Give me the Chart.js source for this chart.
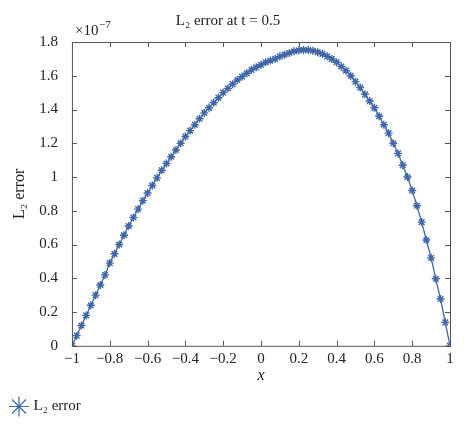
<!DOCTYPE html>
<html><head><meta charset="utf-8">
<script src="https://cdn.jsdelivr.net/npm/chart.js@4"></script>
<style>html,body{margin:0;background:#fff}#w{width:474px;height:438px}</style>
</head><body><div id="w"><canvas id="c"></canvas></div>
<script>
const xValues = [-1,-0.975,-0.95,-0.925,-0.9,-0.875,-0.85,-0.825,-0.8,-0.775,-0.75,-0.725,-0.7,-0.675,-0.65,-0.625,-0.6,-0.575,-0.55,-0.525,-0.5,-0.475,-0.45,-0.425,-0.4,-0.375,-0.35,-0.325,-0.3,-0.275,-0.25,-0.225,-0.2,-0.175,-0.15,-0.125,-0.1,-0.075,-0.05,-0.025,0,0.025,0.05,0.075,0.1,0.125,0.15,0.175,0.2,0.225,0.25,0.275,0.3,0.325,0.35,0.375,0.4,0.425,0.45,0.475,0.5,0.525,0.55,0.575,0.6,0.625,0.65,0.675,0.7,0.725,0.75,0.775,0.8,0.825,0.85,0.875,0.9,0.925,0.95,0.975,1];
const errValues = [0,0.06,0.12,0.18,0.24,0.30,0.36,0.42,0.49,0.545,0.60,0.655,0.71,0.76,0.81,0.86,0.905,0.95,0.995,1.04,1.08,1.12,1.16,1.20,1.24,1.275,1.31,1.345,1.38,1.41,1.44,1.47,1.50,1.525,1.55,1.575,1.595,1.615,1.635,1.65,1.665,1.68,1.69,1.70,1.715,1.725,1.735,1.745,1.75,1.753,1.752,1.748,1.74,1.73,1.715,1.70,1.68,1.655,1.63,1.60,1.565,1.53,1.49,1.45,1.41,1.36,1.31,1.26,1.20,1.14,1.07,1.0,0.92,0.83,0.733,0.627,0.521,0.397,0.277,0.139,0];
const xTicks = [-1,-0.8,-0.6,-0.4,-0.2,0,0.2,0.4,0.6,0.8,1];
const yTicks = [0,0.2,0.4,0.6,0.8,1,1.2,1.4,1.6,1.8];
const titleText = 'L\u2082 error at t = 0.5';
const seriesName = 'L\u2082 error';
const FONT = "'Liberation Serif', 'DejaVu Serif', serif";
const boxPlugin = {
  id:'box',
  afterDraw(ch){
    const {ctx, chartArea:a, scales:{x,y}} = ch;
    ctx.save(); ctx.strokeStyle='#555'; ctx.lineWidth=1;
    ctx.strokeRect(a.left+0.5,a.top+0.5,a.right-a.left,a.bottom-a.top);
    ctx.beginPath();
    xTicks.forEach(v=>{const p=Math.round(x.getPixelForValue(v))+0.5;ctx.moveTo(p,a.bottom);ctx.lineTo(p,a.bottom-5);ctx.moveTo(p,a.top);ctx.lineTo(p,a.top+5);});
    yTicks.forEach(v=>{const p=Math.round(y.getPixelForValue(v))+0.5;ctx.moveTo(a.left,p);ctx.lineTo(a.left+5,p);ctx.moveTo(a.right,p);ctx.lineTo(a.right-5,p);});
    ctx.stroke();
    ctx.fillStyle='#222'; ctx.font="15px "+FONT; ctx.textBaseline='alphabetic';
    ctx.fillText('\u00d710',a.left+3,a.top-7);
    ctx.font="11px "+FONT; ctx.fillText('\u22127',a.left+27,a.top-14);
    ctx.restore();
  }
};
new Chart(document.getElementById('c'),{
  type:'line',
  data:{datasets:[{label:seriesName,data:xValues.map((v,i)=>({x:v,y:errValues[i]})),
    borderColor:'#3f67a8',backgroundColor:'#3f67a8',borderWidth:1.3,pointStyle:'star',pointRadius:4,pointBorderWidth:1.4,tension:0}]},
  options:{responsive:true,maintainAspectRatio:false,animation:false,
    layout:{padding:{left:6,right:24,top:8,bottom:14}},
    plugins:{
      title:{display:true,text:titleText,color:'#222',font:{family:FONT,size:15,weight:'normal'},padding:{top:4,bottom:12}},
      legend:{position:'bottom',align:'start',labels:{usePointStyle:true,pointStyle:'star',boxWidth:14,boxHeight:14,color:'#222',font:{family:FONT,size:15},padding:6,generateLabels(ch){return [{text:seriesName,pointStyle:'star',strokeStyle:'#3f67a8',fillStyle:'#3f67a8',lineWidth:1.2,fontColor:'#222'}];}}},
      tooltip:{enabled:false}},
    scales:{
      x:{type:'linear',min:-1,max:1,grid:{display:false},border:{display:false},
        afterBuildTicks(s){s.ticks=xTicks.map(v=>({value:v}));},
        ticks:{color:'#222',font:{family:FONT,size:15},padding:-4,maxRotation:0,callback:v=>v<0?'\u2212'+Math.abs(v):String(v)},
        title:{display:true,text:'x',color:'#222',font:{family:FONT,size:16,style:'italic'},padding:{top:2,bottom:8}}},
      y:{min:0,max:1.8,grid:{display:false},border:{display:false},
        afterBuildTicks(s){s.ticks=yTicks.map(v=>({value:v}));},
        ticks:{color:'#222',font:{family:FONT,size:15},padding:6,callback:v=>String(v)},
        title:{display:true,text:seriesName,color:'#222',font:{family:FONT,size:16},padding:{bottom:4}}}
    }},
  plugins:[boxPlugin]
});
</script></body></html>
